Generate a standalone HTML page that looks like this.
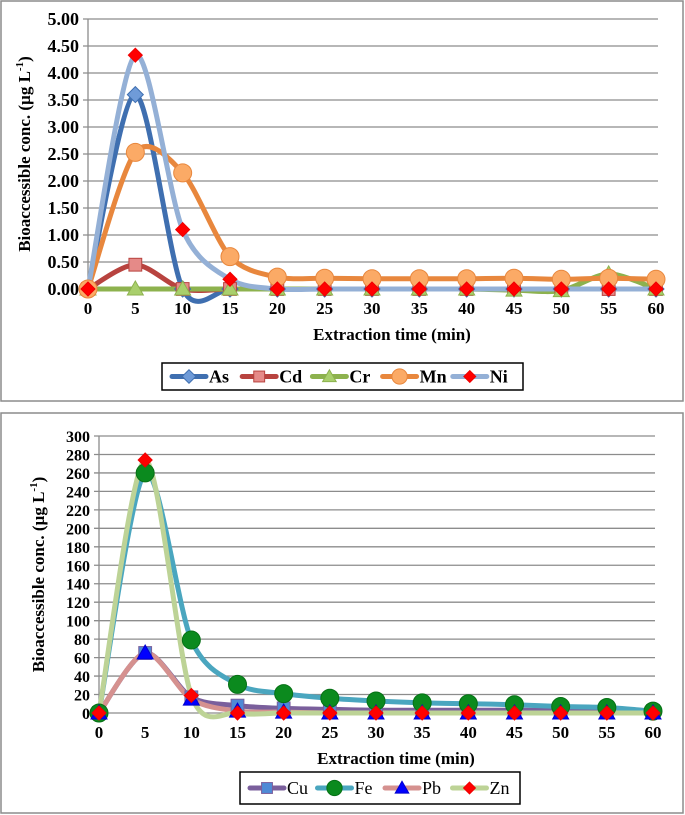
<!DOCTYPE html>
<html><head><meta charset="utf-8"><style>
body{margin:0;background:#fff;width:685px;height:815px;overflow:hidden}
svg{display:block}
svg text{font-family:"Liberation Serif","DejaVu Serif",serif}
</style></head><body>
<svg id="s" width="685" height="815" font-family="Liberation Serif, DejaVu Serif, serif">
<rect x="1" y="1" width="682" height="400" fill="#fff" stroke="#8c8c8c" stroke-width="1.5"/>
<rect x="1" y="413" width="682" height="400" fill="#fff" stroke="#8c8c8c" stroke-width="1.5"/>
<g id="g1"></g>
<g id="g2"></g>
</svg>
<script>
const xCats=[0,5,10,15,20,25,30,35,40,45,50,55,60];
const asVals=[0,3.6,0,0,0,0,0,0,0,0,0,0,0];
const cdVals=[0,0.45,0,0,0,0,0,0,0,0,0,0,0];
const crVals=[0,0,0,0,0,0,0,0,0,-0.02,-0.03,0.28,0];
const mnVals=[0,2.53,2.15,0.6,0.22,0.2,0.19,0.19,0.19,0.2,0.18,0.2,0.18];
const niVals=[0,4.33,1.1,0.18,0,0,0,0,0,0,0,0,0];
const topTicks=["0.00","0.50","1.00","1.50","2.00","2.50","3.00","3.50","4.00","4.50","5.00"];
const cuVals=[0,65,17,8,5,4,3,3,3,3,3,3,2];
const feVals=[0,260,79,31,21,16,13,11,10,9,7,6,2];
const pbVals=[0,65,15,2,1,0,0,0,0,0,0,0,0];
const znVals=[0,274,19,0,0,0,0,0,0,0,0,0,0];
const botTicks=["0","20","40","60","80","100","120","140","160","180","200","220","240","260","280","300"];
const NS="http://www.w3.org/2000/svg";
const FF="Liberation Serif, DejaVu Serif, serif";
function mk(p,t,a){const e=document.createElementNS(NS,t);for(const k in a)e.setAttribute(k,a[k]);if(t==="text")e.setAttribute("font-family",FF);p.appendChild(e);return e;}
function path(pts){let d="M"+pts[0][0]+","+pts[0][1];const T=7;for(let i=0;i<pts.length-1;i++){const p0=pts[Math.max(0,i-1)],p1=pts[i],p2=pts[i+1],p3=pts[Math.min(pts.length-1,i+2)];const c1=[p1[0]+(p2[0]-p0[0])/T,p1[1]+(p2[1]-p0[1])/T],c2=[p2[0]-(p3[0]-p1[0])/T,p2[1]-(p3[1]-p1[1])/T];d+=" C"+c1+" "+c2+" "+p2;}return d;}
function marker(g,type,x,y,fill,stroke,s){let e;
 if(type==="diamond")e=mk(g,"polygon",{points:`${x},${y-s} ${x+s},${y} ${x},${y+s} ${x-s},${y}`});
 else if(type==="square")e=mk(g,"rect",{x:x-s*0.8,y:y-s*0.8,width:s*1.6,height:s*1.6});
 else if(type==="triangle")e=mk(g,"polygon",{points:`${x},${y-s} ${x+s},${y+s*0.75} ${x-s},${y+s*0.75}`});
 else e=mk(g,"circle",{cx:x,cy:y,r:s});
 e.setAttribute("fill",fill);e.setAttribute("stroke",stroke);e.setAttribute("stroke-width","1");
 
 }
function chart(g,o){
 const X=i=>o.x0+(o.x1-o.x0)*xCats[i]/60, Y=v=>o.y0-(o.y0-o.y1)*v/o.max;
 o.ticks.forEach((t,i)=>{const v=o.max*i/(o.ticks.length-1),y=Y(v);
  const l=mk(g,"line",{x1:o.x0-5,x2:o.x1+2,y1:y,y2:y,stroke:"#8c8c8c","stroke-width":1.3});
  
  
  const tx=mk(g,"text",{x:o.x0-9,y:y+6,"text-anchor":"end","font-size":o.fs,"font-weight":"bold"});tx.textContent=t;
  
  });
 mk(g,"line",{x1:o.x0,x2:o.x0,y1:o.y1,y2:o.y0+5,stroke:"#8c8c8c","stroke-width":1.3});
 xCats.forEach((c,i)=>{const tx=mk(g,"text",{x:X(i),y:o.y0+25,"text-anchor":"middle","font-size":17,"font-weight":"bold"});tx.textContent=c;
  
  });
 const xt=mk(g,"text",{x:(o.x0+o.x1)/2+20,y:o.y0+51,"text-anchor":"middle","font-size":17,"font-weight":"bold"});xt.textContent="Extraction time (min)";
 
 const yt=mk(g,"text",{transform:`translate(${o.ytx},${(o.y0+o.y1)/2}) rotate(-90)`,"text-anchor":"middle","font-size":17,"font-weight":"bold"});
 yt.innerHTML='Bioaccessible conc. (µg L<tspan dy="-7" font-size="11">-1</tspan><tspan dy="7">)</tspan>';
 
 o.series.forEach(s=>{const pts=s.v.map((v,i)=>[X(i),Y(v)]);
  const p=mk(g,"path",{d:path(pts),fill:"none",stroke:s.line,"stroke-width":5,"stroke-linejoin":"round"});
  });
 o.series.forEach(s=>{s.v.forEach((v,i)=>marker(g,s.m,X(i),Y(v),s.fill,s.ms,s.sz));});
 const lb=mk(g,"rect",{x:o.lg[0],y:o.lg[1],width:o.lg[2],height:o.lg[3],fill:"#fff",stroke:"#000","stroke-width":1.5});
 
 const step=(o.lg[2]-10)/o.series.length;
 o.series.forEach((s,k)=>{const lx=o.lg[0]+10+k*step,ly=o.lg[1]+o.lg[3]/2;
  mk(g,"line",{x1:lx,x2:lx+34,y1:ly,y2:ly,stroke:s.line,"stroke-width":5,"stroke-linecap":"round"});
  marker(g,s.m,lx+17,ly,s.fill,s.ms,s.sz*0.85);
  const t=mk(g,"text",{x:lx+37,y:ly+6,"font-size":18,"font-weight":o.lgb?"bold":"normal"});t.textContent=s.n;
  });
}
chart(document.getElementById("g1"),{x0:88,x1:656,y0:289,y1:19,max:5,ticks:topTicks,fs:18,ytx:30,lg:[162,363,361,27],lgb:true,series:[
 {n:"As",v:asVals,line:"#3f6fb0",m:"diamond",fill:"#6f9bd8",ms:"#3f6fb0",sz:8},
 {n:"Cd",v:cdVals,line:"#b8433f",m:"square",fill:"#e58a88",ms:"#b8433f",sz:8},
 {n:"Cr",v:crVals,line:"#8db24e",m:"triangle",fill:"#a9cf6c",ms:"#8db24e",sz:8},
 {n:"Mn",v:mnVals,line:"#e8873d",m:"circle",fill:"#fbaa66",ms:"#e8873d",sz:9},
 {n:"Ni",v:niVals,line:"#94b0d6",m:"diamond",fill:"#ff0000",ms:"#ee0000",sz:7}]});
chart(document.getElementById("g2"),{x0:99,x1:653,y0:713,y1:436,max:300,ticks:botTicks,fs:16,ytx:44,lg:[240,772,280,32],lgb:false,series:[
 {n:"Cu",v:cuVals,line:"#7a5f9c",m:"square",fill:"#4f8ad6",ms:"#7a5f9c",sz:8},
 {n:"Fe",v:feVals,line:"#4aa6bf",m:"circle",fill:"#0b8a1e",ms:"#067015",sz:9},
 {n:"Pb",v:pbVals,line:"#d5918f",m:"triangle",fill:"#0000ff",ms:"#0000cc",sz:8},
 {n:"Zn",v:znVals,line:"#bdd396",m:"diamond",fill:"#ff0000",ms:"#ee0000",sz:7}]});
</script>
</body></html>
